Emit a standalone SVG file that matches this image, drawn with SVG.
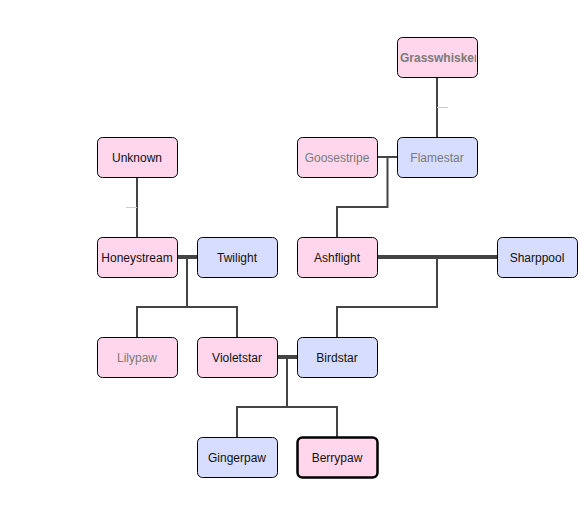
<svg xmlns="http://www.w3.org/2000/svg" width="582" height="513" viewBox="0 0 582 513">
<style>
.n rect{stroke:#000;stroke-width:1}
.f rect{fill:#ffd6ec}
.m rect{fill:#d6ddff}
text{font-family:"Liberation Sans",Arial,sans-serif;font-size:12px;text-anchor:middle;dominant-baseline:central;fill:#111}
.g text{fill:#7a7a7a}
.c{stroke:#444;stroke-width:2;fill:none}
.t{stroke:#444;stroke-width:4;fill:none}
.k{stroke:#ccc;stroke-width:1;fill:none}
</style>
<defs>
<clipPath id="cg"><rect x="398" y="38" width="78" height="39"/></clipPath>
</defs>
<rect width="582" height="513" fill="#fff"/>
<g id="connectors">
<path class="c" d="M437 77V137"/>
<path class="k" d="M437 107.5H448"/>
<path class="c" d="M137 177V237"/>
<path class="k" d="M126 207.5H137"/>
<path class="c" d="M377 157H397M387.5 157V207H337V237"/>
<path class="t" d="M177 257H197"/>
<path class="c" d="M187 257V307M137 337V307H237V337"/>
<path class="t" d="M377 257H497"/>
<path class="c" d="M437 257V307H337V337"/>
<path class="t" d="M277 357H297"/>
<path class="c" d="M287 357V407M237 437V407H337V437"/>
</g>
<g id="grasswhisker" class="n f g"><rect x="397.5" y="37.5" width="80" height="40" rx="5"/><text x="400" y="58" font-weight="bold" style="text-anchor:start" clip-path="url(#cg)">Grasswhisker</text></g>
<g id="goosestripe" class="n f g"><rect x="297.5" y="137.5" width="80" height="40" rx="5"/><text x="337" y="158">Goosestripe</text></g>
<g id="flamestar" class="n m g"><rect x="397.5" y="137.5" width="80" height="40" rx="5"/><text x="437" y="158">Flamestar</text></g>
<g id="unknown" class="n f"><rect x="97.5" y="137.5" width="80" height="40" rx="5"/><text x="137" y="158">Unknown</text></g>
<g id="honeystream" class="n f"><rect x="97.5" y="237.5" width="80" height="40" rx="5"/><text x="137" y="258">Honeystream</text></g>
<g id="twilight" class="n m"><rect x="197.5" y="237.5" width="80" height="40" rx="5"/><text x="237" y="258">Twilight</text></g>
<g id="ashflight" class="n f"><rect x="297.5" y="237.5" width="80" height="40" rx="5"/><text x="337" y="258">Ashflight</text></g>
<g id="sharppool" class="n m"><rect x="497.5" y="237.5" width="80" height="40" rx="5"/><text x="537" y="258">Sharppool</text></g>
<g id="lilypaw" class="n f g"><rect x="97.5" y="337.5" width="80" height="40" rx="5"/><text x="137" y="358">Lilypaw</text></g>
<g id="violetstar" class="n f"><rect x="197.5" y="337.5" width="80" height="40" rx="5"/><text x="237" y="358">Violetstar</text></g>
<g id="birdstar" class="n m"><rect x="297.5" y="337.5" width="80" height="40" rx="5"/><text x="337" y="358">Birdstar</text></g>
<g id="gingerpaw" class="n m"><rect x="197.5" y="437.5" width="80" height="40" rx="5"/><text x="237" y="458">Gingerpaw</text></g>
<g id="berrypaw" class="n f"><rect x="297.5" y="437.5" width="80" height="40" rx="5" style="stroke-width:2.5"/><text x="337" y="458">Berrypaw</text></g>
</svg>
